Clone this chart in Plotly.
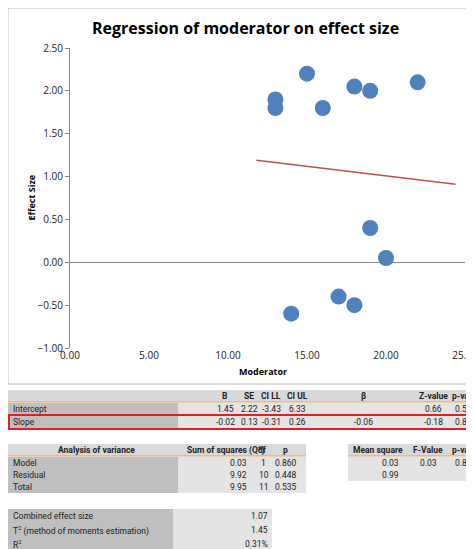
import plotly.graph_objects as go

W, H = 474, 549

# scatter data
moderator = [13, 13, 15, 16, 18, 19, 22, 19, 20, 17, 18, 14]
effect_size = [1.9, 1.8, 2.2, 1.8, 2.05, 2.0, 2.1, 0.4, 0.05, -0.4, -0.5, -0.6]
fit_x = [11.8, 24.4]
fit_y = [1.19, 0.91]

# regression table
coef_headers = ["B", "SE", "CI LL", "CI UL", "β", "Z-value", "p-value"]
coef_header_x = [217, 241, 263, 289, 355, 425, 458]
intercept_row = ["1.45", "2.22", "-3.43", "6.33", "", "0.66", "0.512"]
slope_row = ["-0.02", "0.13", "-0.31", "0.26", "-0.06", "-0.18", "0.860"]

anova_headers = ["Analysis of variance", "Sum of squares (Q*)", "df", "p"]
anova_header_x = [88, 218, 254, 277]
anova_rows = [["Model", "0.03", "1", "0.860"],
              ["Residual", "9.92", "10", "0.448"],
              ["Total", "9.95", "11", "0.535"]]
ms_headers = ["Mean square", "F-Value", "p-value"]
ms_header_x = [370, 420, 458]
ms_rows = [["0.03", "0.03", "0.863"], ["0.99", "", ""]]

summary_labels = ["Combined effect size", "T<sup>2</sup> (method of moments estimation)", "R<sup>2</sup>"]
summary_values = ["1.07", "1.45", "0.31%"]

def px(x):
    return x / W

def py(y):
    return 1 - y / H

fig = go.Figure()
fig.add_trace(go.Scatter(x=moderator, y=effect_size, mode="markers",
                         marker=dict(color="#4F81BD", size=16), showlegend=False))
fig.add_trace(go.Scatter(x=fit_x, y=fit_y, mode="lines",
                         line=dict(color="#C0504D", width=1.5), showlegend=False))

shapes, ann = [], []
FONT = dict(family="Roboto", size=8.5, color="#222")

def rect(x0, y0, x1, y1, color, line=None):
    shapes.append(dict(type="rect", xref="paper", yref="paper", x0=px(x0), x1=px(x1),
                       y0=py(y1), y1=py(y0), fillcolor=color,
                       line=line or dict(width=0), layer="below"))

def text(s, x, yc, anchor="right", bold=False):
    ann.append(dict(text=f"<b>{s}</b>" if bold else s, x=px(x), y=py(yc), xref="paper", yref="paper",
                    xanchor=anchor, yanchor="middle", showarrow=False, font=FONT))

def orange_line(x0, x1, y):
    shapes.append(dict(type="line", xref="paper", yref="paper", x0=px(x0), x1=px(x1),
                       y0=py(y), y1=py(y), line=dict(color="#E8A060", width=1.2)))

# chart border
shapes.append(dict(type="rect", xref="paper", yref="paper", x0=0, x1=1, y0=py(376), y1=1,
                   line=dict(color="#BBBBBB", width=1)))

# table 1
rect(0, 382, 474, 394, "#D9D9D9")
orange_line(0, 474, 394)
for h, x in zip(coef_headers, coef_header_x):
    text(h, x, 388, "center", True)
for i, (lab, row) in enumerate([("Intercept", intercept_row), ("Slope", slope_row)]):
    y0 = 395 + i * 13
    rect(0, y0, 170, y0 + 12, "#BFBFBF")
    rect(170, y0, 474, y0 + 12, "#E4E4E4")
    text(lab, 3, y0 + 6, "left")
    for v, x in zip(row, coef_header_x):
        text(v, x, y0 + 6, "center")
shapes.append(dict(type="rect", xref="paper", yref="paper", x0=px(1), x1=px(473),
                   y0=py(421), y1=py(407), line=dict(color="#E02020", width=2)))

# table 2
rect(0, 436, 298, 448, "#D9D9D9")
orange_line(0, 298, 448)
for h, x in zip(anova_headers, anova_header_x):
    text(h, x, 442, "center", True)
for i, row in enumerate(anova_rows):
    y0 = 449 + i * 12
    rect(0, y0, 170, y0 + 12, "#BFBFBF")
    rect(170, y0, 298, y0 + 12, "#E4E4E4")
    text(row[0], 3, y0 + 6, "left")
    for v, x in zip(row[1:], [230, 256, 278]):
        text(v, x, y0 + 6, "center")
rect(340, 436, 474, 448, "#D9D9D9")
orange_line(340, 474, 448)
for h, x in zip(ms_headers, ms_header_x):
    text(h, x, 442, "center", True)
for i, row in enumerate(ms_rows):
    y0 = 449 + i * 12
    rect(340, y0, 474, y0 + 12, "#E4E4E4")
    for v, x in zip(row, [382, 420, 458]):
        text(v, x, y0 + 6, "center")

# table 3
for i, (lab, v) in enumerate(zip(summary_labels, summary_values)):
    y0 = 501 + i * 14
    rect(0, y0, 165, y0 + 14, "#BFBFBF")
    rect(165, y0, 264, y0 + 14, "#E4E4E4")
    text(lab, 3, y0 + 7, "left")
    text(v, 262, y0 + 7, "right")

# chart texts
ann.append(dict(text="<b>Regression of moderator on effect size</b>", x=0.5, y=py(20), xref="paper",
                yref="paper", yanchor="middle", showarrow=False,
                font=dict(family="Open Sans", size=16, color="#000")))
ann.append(dict(text="<b>Moderator</b>", x=px(255), y=py(363), xref="paper", yref="paper",
                yanchor="middle", showarrow=False, font=dict(family="Open Sans", size=9, color="#000")))
ann.append(dict(text="<b>Effect Size</b>", x=px(14), y=py(190), xref="paper", yref="paper",
                textangle=-90, showarrow=False, font=dict(family="Open Sans", size=9, color="#000")))

fig.update_layout(
    width=W, height=H, margin=dict(l=0, r=0, t=0, b=0, pad=0, autoexpand=False),
    paper_bgcolor="white", plot_bgcolor="white",
    shapes=shapes, annotations=ann,
    xaxis=dict(domain=[px(62), px(457)], range=[0, 25], tickvals=[0, 5, 10, 15, 20, 25],
               tickformat=".2f", showgrid=False, zeroline=False, showline=False, automargin=False,
               tickfont=dict(family="Open Sans", size=10, color="#222")),
    yaxis=dict(domain=[py(340), py(40)], range=[-1, 2.5], dtick=0.5, tickformat=".2f",
               showgrid=False, zeroline=True, zerolinecolor="#888", zerolinewidth=1, automargin=False,
               showline=True, linecolor="#888", ticks="outside", ticklen=4, tickcolor="#888",
               tickfont=dict(family="Open Sans", size=10, color="#222")),
)
fig.write_html("out.html")
